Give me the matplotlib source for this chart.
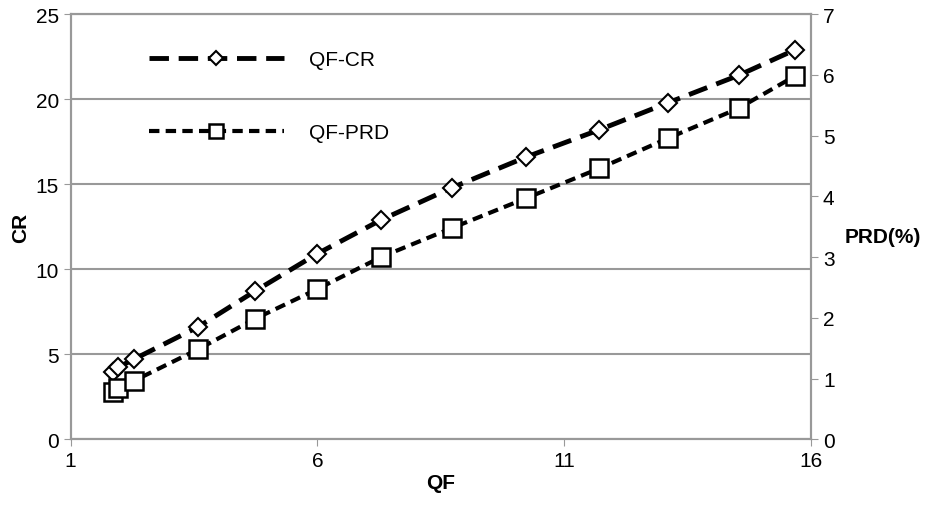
import matplotlib.pyplot as plt

qf = [1.85, 1.97, 2.28, 3.58, 4.73, 5.99, 7.29, 8.73, 10.23, 11.71, 13.11, 14.53, 15.67]
cr = [3.94, 4.24, 4.7, 6.6, 8.7, 10.9, 12.9, 14.8, 16.6, 18.2, 19.8, 21.4, 22.9]
prd = [0.77, 0.84, 0.96, 1.48, 1.98, 2.47, 3.0, 3.48, 3.97, 4.46, 4.96, 5.45, 5.98]

plt.rcParams["font.family"] = ["Liberation Sans", "DejaVu Sans"]
fig, ax1 = plt.subplots(figsize=(9.41, 5.06), dpi=100)
fig.subplots_adjust(left=0.075, right=0.862, top=0.97, bottom=0.13)
ax2 = ax1.twinx()

ax1.plot(qf, cr, color="black", lw=3.5, dashes=(4, 2), marker="D", ms=9,
         mfc="white", mec="black", mew=1.5, label="QF-CR")
ax2.plot(qf, prd, color="black", lw=3, dashes=(2.5, 1.5), marker="s", ms=13,
         mfc="white", mec="black", mew=1.8, label="QF-PRD")

ax1.set_xlim(1, 16)
ax1.set_ylim(0, 25)
ax2.set_ylim(0, 7)
ax1.set_xticks([1, 6, 11, 16])
ax1.set_yticks(range(0, 26, 5))
ax2.set_yticks(range(0, 8))
ax1.grid(axis="y", color="#999999", lw=1.5)
for ax in (ax1, ax2):
    ax.tick_params(labelsize=15, color="#999999", length=5)
    for s in ax.spines.values():
        s.set_color("#999999")
        s.set_linewidth(1.5)

ax1.set_xlabel("QF", fontsize=15, fontweight="bold", labelpad=2)
ax1.set_ylabel("CR", fontsize=15, fontweight="bold", labelpad=4)
ax2.set_ylabel("PRD(%)", fontsize=15, fontweight="bold", rotation=0, labelpad=35)

h1, l1 = ax1.get_legend_handles_labels()
h2, l2 = ax2.get_legend_handles_labels()
ax1.legend(h1 + h2, l1 + l2, loc="upper left", bbox_to_anchor=(0.08, 0.96),
           frameon=False, fontsize=15, handlelength=6.5, labelspacing=2.6,
           markerscale=0.8, handletextpad=1.2)

fig.savefig("out.png", dpi=100)
